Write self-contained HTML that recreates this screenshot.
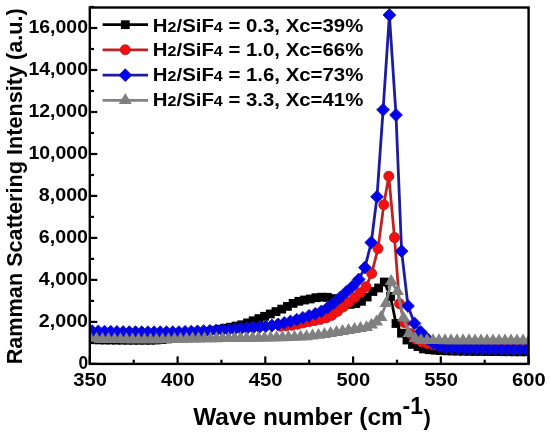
<!DOCTYPE html>
<html><head><meta charset="utf-8"><style>
html,body{margin:0;padding:0;background:#fff;}
svg{display:block;}
text{font-family:"Liberation Sans",Arial,sans-serif;font-weight:bold;fill:#000;}
.tk{font-size:18px;}
.lg{font-size:19px;}
.sb{font-size:15px;}
.al{font-size:22.5px;}
.sp{font-size:16px;}
</style></head><body>
<svg width="550" height="434" viewBox="0 0 550 434">
<rect width="550" height="434" fill="#fff"/>
<defs><clipPath id="pc"><rect x="89.8" y="3.5" width="438.8" height="360.4"/></clipPath></defs>
<g clip-path="url(#pc)">
<g><polyline points="87.9,339.6 93.6,339.7 99.3,339.9 105.0,340.0 110.7,340.0 116.4,340.1 122.1,340.1 127.8,340.2 133.5,340.2 139.2,340.2 144.9,340.2 150.6,340.2 156.3,340.0 162.0,339.6 167.7,338.9 173.4,338.1 179.1,337.3 184.8,336.3 190.5,335.4 196.2,334.3 201.9,333.0 207.6,331.6 213.3,330.3 219.0,329.2 224.7,328.2 230.4,327.2 236.1,326.1 241.8,324.8 247.5,322.9 253.2,320.8 258.9,318.6 264.6,316.3 270.3,314.0 276.0,311.6 281.7,309.1 287.4,306.4 293.1,303.4 298.8,301.3 304.5,300.0 310.2,299.0 315.9,297.7 321.6,297.2 327.3,297.3 333.0,298.6 338.7,301.0 344.4,303.6 350.1,304.4 355.8,303.5 361.5,301.3 367.2,297.0 372.9,291.5 378.6,288.0 384.3,282.0 390.5,296.5 396.0,323.5 401.5,333.2 407.0,340.0 412.5,344.4 418.0,346.6 423.5,348.9 429.2,349.7 434.9,350.2 440.6,350.6 446.3,350.8 452.0,351.0 457.7,351.1 463.4,351.2 469.1,351.3 474.8,351.4 480.5,351.4 486.2,351.5 491.9,351.6 497.6,351.6 503.3,351.7 509.0,351.7 514.7,351.8 520.4,351.8 526.1,351.8 531.8,351.8" fill="none" stroke="#000000" stroke-width="2.8" stroke-linejoin="round"/>
<rect x="83.5" y="335.2" width="8.8" height="8.8" fill="#000000"/>
<rect x="89.2" y="335.3" width="8.8" height="8.8" fill="#000000"/>
<rect x="94.9" y="335.5" width="8.8" height="8.8" fill="#000000"/>
<rect x="100.6" y="335.6" width="8.8" height="8.8" fill="#000000"/>
<rect x="106.3" y="335.6" width="8.8" height="8.8" fill="#000000"/>
<rect x="112.0" y="335.7" width="8.8" height="8.8" fill="#000000"/>
<rect x="117.7" y="335.7" width="8.8" height="8.8" fill="#000000"/>
<rect x="123.4" y="335.8" width="8.8" height="8.8" fill="#000000"/>
<rect x="129.1" y="335.8" width="8.8" height="8.8" fill="#000000"/>
<rect x="134.8" y="335.8" width="8.8" height="8.8" fill="#000000"/>
<rect x="140.5" y="335.8" width="8.8" height="8.8" fill="#000000"/>
<rect x="146.2" y="335.8" width="8.8" height="8.8" fill="#000000"/>
<rect x="151.9" y="335.6" width="8.8" height="8.8" fill="#000000"/>
<rect x="157.6" y="335.2" width="8.8" height="8.8" fill="#000000"/>
<rect x="163.3" y="334.5" width="8.8" height="8.8" fill="#000000"/>
<rect x="169.0" y="333.7" width="8.8" height="8.8" fill="#000000"/>
<rect x="174.7" y="332.9" width="8.8" height="8.8" fill="#000000"/>
<rect x="180.4" y="331.9" width="8.8" height="8.8" fill="#000000"/>
<rect x="186.1" y="331.0" width="8.8" height="8.8" fill="#000000"/>
<rect x="191.8" y="329.9" width="8.8" height="8.8" fill="#000000"/>
<rect x="197.5" y="328.6" width="8.8" height="8.8" fill="#000000"/>
<rect x="203.2" y="327.2" width="8.8" height="8.8" fill="#000000"/>
<rect x="208.9" y="325.9" width="8.8" height="8.8" fill="#000000"/>
<rect x="214.6" y="324.8" width="8.8" height="8.8" fill="#000000"/>
<rect x="220.3" y="323.8" width="8.8" height="8.8" fill="#000000"/>
<rect x="226.0" y="322.8" width="8.8" height="8.8" fill="#000000"/>
<rect x="231.7" y="321.7" width="8.8" height="8.8" fill="#000000"/>
<rect x="237.4" y="320.4" width="8.8" height="8.8" fill="#000000"/>
<rect x="243.1" y="318.5" width="8.8" height="8.8" fill="#000000"/>
<rect x="248.8" y="316.4" width="8.8" height="8.8" fill="#000000"/>
<rect x="254.5" y="314.2" width="8.8" height="8.8" fill="#000000"/>
<rect x="260.2" y="311.9" width="8.8" height="8.8" fill="#000000"/>
<rect x="265.9" y="309.6" width="8.8" height="8.8" fill="#000000"/>
<rect x="271.6" y="307.2" width="8.8" height="8.8" fill="#000000"/>
<rect x="277.3" y="304.7" width="8.8" height="8.8" fill="#000000"/>
<rect x="283.0" y="302.0" width="8.8" height="8.8" fill="#000000"/>
<rect x="288.7" y="299.0" width="8.8" height="8.8" fill="#000000"/>
<rect x="294.4" y="296.9" width="8.8" height="8.8" fill="#000000"/>
<rect x="300.1" y="295.6" width="8.8" height="8.8" fill="#000000"/>
<rect x="305.8" y="294.6" width="8.8" height="8.8" fill="#000000"/>
<rect x="311.5" y="293.3" width="8.8" height="8.8" fill="#000000"/>
<rect x="317.2" y="292.8" width="8.8" height="8.8" fill="#000000"/>
<rect x="322.9" y="292.9" width="8.8" height="8.8" fill="#000000"/>
<rect x="328.6" y="294.2" width="8.8" height="8.8" fill="#000000"/>
<rect x="334.3" y="296.6" width="8.8" height="8.8" fill="#000000"/>
<rect x="340.0" y="299.2" width="8.8" height="8.8" fill="#000000"/>
<rect x="345.7" y="300.0" width="8.8" height="8.8" fill="#000000"/>
<rect x="351.4" y="299.1" width="8.8" height="8.8" fill="#000000"/>
<rect x="357.1" y="296.9" width="8.8" height="8.8" fill="#000000"/>
<rect x="362.8" y="292.6" width="8.8" height="8.8" fill="#000000"/>
<rect x="368.5" y="287.1" width="8.8" height="8.8" fill="#000000"/>
<rect x="374.2" y="283.6" width="8.8" height="8.8" fill="#000000"/>
<rect x="379.9" y="277.6" width="8.8" height="8.8" fill="#000000"/>
<rect x="386.1" y="292.1" width="8.8" height="8.8" fill="#000000"/>
<rect x="391.6" y="319.1" width="8.8" height="8.8" fill="#000000"/>
<rect x="397.1" y="328.8" width="8.8" height="8.8" fill="#000000"/>
<rect x="402.6" y="335.6" width="8.8" height="8.8" fill="#000000"/>
<rect x="408.1" y="340.0" width="8.8" height="8.8" fill="#000000"/>
<rect x="413.6" y="342.2" width="8.8" height="8.8" fill="#000000"/>
<rect x="419.1" y="344.5" width="8.8" height="8.8" fill="#000000"/>
<rect x="424.8" y="345.3" width="8.8" height="8.8" fill="#000000"/>
<rect x="430.5" y="345.8" width="8.8" height="8.8" fill="#000000"/>
<rect x="436.2" y="346.2" width="8.8" height="8.8" fill="#000000"/>
<rect x="441.9" y="346.4" width="8.8" height="8.8" fill="#000000"/>
<rect x="447.6" y="346.6" width="8.8" height="8.8" fill="#000000"/>
<rect x="453.3" y="346.7" width="8.8" height="8.8" fill="#000000"/>
<rect x="459.0" y="346.8" width="8.8" height="8.8" fill="#000000"/>
<rect x="464.7" y="346.9" width="8.8" height="8.8" fill="#000000"/>
<rect x="470.4" y="347.0" width="8.8" height="8.8" fill="#000000"/>
<rect x="476.1" y="347.0" width="8.8" height="8.8" fill="#000000"/>
<rect x="481.8" y="347.1" width="8.8" height="8.8" fill="#000000"/>
<rect x="487.5" y="347.2" width="8.8" height="8.8" fill="#000000"/>
<rect x="493.2" y="347.2" width="8.8" height="8.8" fill="#000000"/>
<rect x="498.9" y="347.3" width="8.8" height="8.8" fill="#000000"/>
<rect x="504.6" y="347.3" width="8.8" height="8.8" fill="#000000"/>
<rect x="510.3" y="347.4" width="8.8" height="8.8" fill="#000000"/>
<rect x="516.0" y="347.4" width="8.8" height="8.8" fill="#000000"/>
<rect x="521.7" y="347.4" width="8.8" height="8.8" fill="#000000"/>
<rect x="527.4" y="347.4" width="8.8" height="8.8" fill="#000000"/>
</g>
<g><polyline points="86.7,332.0 92.4,332.2 98.1,332.2 103.8,332.3 109.5,332.4 115.2,332.4 120.9,332.5 126.6,332.5 132.3,332.5 138.0,332.5 143.7,332.5 149.4,332.5 155.1,332.5 160.8,332.4 166.5,332.4 172.2,332.2 177.9,332.1 183.6,332.0 189.3,331.8 195.0,331.6 200.7,331.5 206.4,331.3 212.1,331.0 217.8,330.7 223.5,330.3 229.2,330.0 234.9,329.6 240.6,329.2 246.3,328.8 252.0,328.4 257.7,327.9 263.4,327.5 269.1,327.1 274.8,326.7 280.5,326.3 286.2,325.9 291.9,325.3 297.6,324.3 303.3,323.0 309.0,321.7 314.7,320.6 320.4,319.4 326.1,317.9 331.8,315.4 337.5,311.4 343.2,307.0 348.9,302.3 354.6,297.7 360.3,292.8 366.0,286.8 371.7,273.5 378.0,248.6 383.8,204.8 388.8,176.2 394.5,237.6 399.5,303.7 404.7,322.8 410.4,333.5 416.1,339.1 421.8,342.0 427.5,343.6 433.2,344.8 438.9,345.5 444.6,345.6 450.3,345.7 456.0,345.9 461.7,346.0 467.4,346.1 473.1,346.1 478.8,346.2 484.5,346.3 490.2,346.3 495.9,346.4 501.6,346.4 507.3,346.4 513.0,346.5 518.7,346.5 524.4,346.5 530.1,346.5" fill="none" stroke="#c02222" stroke-width="2.8" stroke-linejoin="round"/>
<circle cx="280.5" cy="326.3" r="5.0" fill="#f41010" stroke="#c01818" stroke-width="0.9"/>
<circle cx="286.2" cy="325.9" r="5.0" fill="#f41010" stroke="#c01818" stroke-width="0.9"/>
<circle cx="291.9" cy="325.3" r="5.0" fill="#f41010" stroke="#c01818" stroke-width="0.9"/>
<circle cx="297.6" cy="324.3" r="5.0" fill="#f41010" stroke="#c01818" stroke-width="0.9"/>
<circle cx="303.3" cy="323.0" r="5.0" fill="#f41010" stroke="#c01818" stroke-width="0.9"/>
<circle cx="309.0" cy="321.7" r="5.0" fill="#f41010" stroke="#c01818" stroke-width="0.9"/>
<circle cx="314.7" cy="320.6" r="5.0" fill="#f41010" stroke="#c01818" stroke-width="0.9"/>
<circle cx="320.4" cy="319.4" r="5.0" fill="#f41010" stroke="#c01818" stroke-width="0.9"/>
<circle cx="326.1" cy="317.9" r="5.0" fill="#f41010" stroke="#c01818" stroke-width="0.9"/>
<circle cx="331.8" cy="315.4" r="5.0" fill="#f41010" stroke="#c01818" stroke-width="0.9"/>
<circle cx="337.5" cy="311.4" r="5.0" fill="#f41010" stroke="#c01818" stroke-width="0.9"/>
<circle cx="343.2" cy="307.0" r="5.0" fill="#f41010" stroke="#c01818" stroke-width="0.9"/>
<circle cx="348.9" cy="302.3" r="5.0" fill="#f41010" stroke="#c01818" stroke-width="0.9"/>
<circle cx="354.6" cy="297.7" r="5.0" fill="#f41010" stroke="#c01818" stroke-width="0.9"/>
<circle cx="360.3" cy="292.8" r="5.0" fill="#f41010" stroke="#c01818" stroke-width="0.9"/>
<circle cx="366.0" cy="286.8" r="5.0" fill="#f41010" stroke="#c01818" stroke-width="0.9"/>
<circle cx="371.7" cy="273.5" r="5.0" fill="#f41010" stroke="#c01818" stroke-width="0.9"/>
<circle cx="378.0" cy="248.6" r="5.0" fill="#f41010" stroke="#c01818" stroke-width="0.9"/>
<circle cx="383.8" cy="204.8" r="5.0" fill="#f41010" stroke="#c01818" stroke-width="0.9"/>
<circle cx="388.8" cy="176.2" r="5.0" fill="#f41010" stroke="#c01818" stroke-width="0.9"/>
<circle cx="394.5" cy="237.6" r="5.0" fill="#f41010" stroke="#c01818" stroke-width="0.9"/>
<circle cx="399.5" cy="303.7" r="5.0" fill="#f41010" stroke="#c01818" stroke-width="0.9"/>
<circle cx="404.7" cy="322.8" r="5.0" fill="#f41010" stroke="#c01818" stroke-width="0.9"/>
<circle cx="410.4" cy="333.5" r="5.0" fill="#f41010" stroke="#c01818" stroke-width="0.9"/>
<circle cx="416.1" cy="339.1" r="5.0" fill="#f41010" stroke="#c01818" stroke-width="0.9"/>
<circle cx="421.8" cy="342.0" r="5.0" fill="#f41010" stroke="#c01818" stroke-width="0.9"/>
<circle cx="427.5" cy="343.6" r="5.0" fill="#f41010" stroke="#c01818" stroke-width="0.9"/>
<circle cx="433.2" cy="344.8" r="5.0" fill="#f41010" stroke="#c01818" stroke-width="0.9"/>
<circle cx="438.9" cy="345.5" r="5.0" fill="#f41010" stroke="#c01818" stroke-width="0.9"/>
<circle cx="444.6" cy="345.6" r="5.0" fill="#f41010" stroke="#c01818" stroke-width="0.9"/>
<circle cx="450.3" cy="345.7" r="5.0" fill="#f41010" stroke="#c01818" stroke-width="0.9"/>
<circle cx="456.0" cy="345.9" r="5.0" fill="#f41010" stroke="#c01818" stroke-width="0.9"/>
<circle cx="461.7" cy="346.0" r="5.0" fill="#f41010" stroke="#c01818" stroke-width="0.9"/>
<circle cx="467.4" cy="346.1" r="5.0" fill="#f41010" stroke="#c01818" stroke-width="0.9"/>
<circle cx="473.1" cy="346.1" r="5.0" fill="#f41010" stroke="#c01818" stroke-width="0.9"/>
<circle cx="478.8" cy="346.2" r="5.0" fill="#f41010" stroke="#c01818" stroke-width="0.9"/>
<circle cx="484.5" cy="346.3" r="5.0" fill="#f41010" stroke="#c01818" stroke-width="0.9"/>
<circle cx="490.2" cy="346.3" r="5.0" fill="#f41010" stroke="#c01818" stroke-width="0.9"/>
<circle cx="495.9" cy="346.4" r="5.0" fill="#f41010" stroke="#c01818" stroke-width="0.9"/>
<circle cx="501.6" cy="346.4" r="5.0" fill="#f41010" stroke="#c01818" stroke-width="0.9"/>
<circle cx="507.3" cy="346.4" r="5.0" fill="#f41010" stroke="#c01818" stroke-width="0.9"/>
<circle cx="513.0" cy="346.5" r="5.0" fill="#f41010" stroke="#c01818" stroke-width="0.9"/>
<circle cx="518.7" cy="346.5" r="5.0" fill="#f41010" stroke="#c01818" stroke-width="0.9"/>
<circle cx="524.4" cy="346.5" r="5.0" fill="#f41010" stroke="#c01818" stroke-width="0.9"/>
<circle cx="530.1" cy="346.5" r="5.0" fill="#f41010" stroke="#c01818" stroke-width="0.9"/>
</g>
<g><polyline points="85.9,331.0 92.1,331.2 98.3,331.4 104.5,331.6 110.7,331.7 116.9,331.9 123.1,332.0 129.3,332.1 135.5,332.1 141.7,332.2 147.9,332.2 154.1,332.2 160.3,332.2 166.5,332.2 172.7,332.2 178.9,332.1 185.1,331.8 191.3,331.6 197.5,331.3 203.7,331.1 209.9,330.8 216.1,330.5 222.3,330.2 228.5,329.8 234.7,329.3 240.9,328.7 247.1,328.1 253.3,327.5 259.5,327.0 265.7,326.3 271.9,325.5 278.1,324.4 284.3,322.9 290.5,321.4 296.7,319.7 302.9,317.8 309.1,315.8 315.3,313.8 321.5,311.3 327.7,307.7 333.9,303.0 340.1,297.6 346.3,291.9 352.5,286.5 358.7,279.5 364.9,267.6 371.3,242.5 377.0,196.8 383.1,109.8 389.4,15.0 396.0,115.0 401.6,251.2 408.0,306.0 414.5,323.4 420.7,331.8 426.9,338.5 433.1,343.1 439.3,346.2 445.5,347.6 451.7,347.9 457.9,348.2 464.1,348.4 470.3,348.5 476.5,348.6 482.7,348.7 488.9,348.8 495.1,348.9 501.3,348.9 507.5,349.0 513.7,349.1 519.9,349.1 526.1,349.2 532.3,349.2" fill="none" stroke="#1c1ca0" stroke-width="2.8" stroke-linejoin="round"/>
<path d="M85.9 324.6L92.3 331.0L85.9 337.4L79.5 331.0Z" fill="#0000ee" stroke="#1a1aa0" stroke-width="0.9" stroke-linejoin="round"/>
<path d="M92.1 324.8L98.5 331.2L92.1 337.6L85.7 331.2Z" fill="#0000ee" stroke="#1a1aa0" stroke-width="0.9" stroke-linejoin="round"/>
<path d="M98.3 325.0L104.7 331.4L98.3 337.8L91.9 331.4Z" fill="#0000ee" stroke="#1a1aa0" stroke-width="0.9" stroke-linejoin="round"/>
<path d="M104.5 325.2L110.9 331.6L104.5 338.0L98.1 331.6Z" fill="#0000ee" stroke="#1a1aa0" stroke-width="0.9" stroke-linejoin="round"/>
<path d="M110.7 325.3L117.1 331.7L110.7 338.1L104.3 331.7Z" fill="#0000ee" stroke="#1a1aa0" stroke-width="0.9" stroke-linejoin="round"/>
<path d="M116.9 325.5L123.3 331.9L116.9 338.3L110.5 331.9Z" fill="#0000ee" stroke="#1a1aa0" stroke-width="0.9" stroke-linejoin="round"/>
<path d="M123.1 325.6L129.5 332.0L123.1 338.4L116.7 332.0Z" fill="#0000ee" stroke="#1a1aa0" stroke-width="0.9" stroke-linejoin="round"/>
<path d="M129.3 325.7L135.7 332.1L129.3 338.5L122.9 332.1Z" fill="#0000ee" stroke="#1a1aa0" stroke-width="0.9" stroke-linejoin="round"/>
<path d="M135.5 325.7L141.9 332.1L135.5 338.5L129.1 332.1Z" fill="#0000ee" stroke="#1a1aa0" stroke-width="0.9" stroke-linejoin="round"/>
<path d="M141.7 325.8L148.1 332.2L141.7 338.6L135.3 332.2Z" fill="#0000ee" stroke="#1a1aa0" stroke-width="0.9" stroke-linejoin="round"/>
<path d="M147.9 325.8L154.3 332.2L147.9 338.6L141.5 332.2Z" fill="#0000ee" stroke="#1a1aa0" stroke-width="0.9" stroke-linejoin="round"/>
<path d="M154.1 325.8L160.5 332.2L154.1 338.6L147.7 332.2Z" fill="#0000ee" stroke="#1a1aa0" stroke-width="0.9" stroke-linejoin="round"/>
<path d="M160.3 325.8L166.7 332.2L160.3 338.6L153.9 332.2Z" fill="#0000ee" stroke="#1a1aa0" stroke-width="0.9" stroke-linejoin="round"/>
<path d="M166.5 325.8L172.9 332.2L166.5 338.6L160.1 332.2Z" fill="#0000ee" stroke="#1a1aa0" stroke-width="0.9" stroke-linejoin="round"/>
<path d="M172.7 325.8L179.1 332.2L172.7 338.6L166.3 332.2Z" fill="#0000ee" stroke="#1a1aa0" stroke-width="0.9" stroke-linejoin="round"/>
<path d="M178.9 325.7L185.3 332.1L178.9 338.5L172.5 332.1Z" fill="#0000ee" stroke="#1a1aa0" stroke-width="0.9" stroke-linejoin="round"/>
<path d="M185.1 325.4L191.5 331.8L185.1 338.2L178.7 331.8Z" fill="#0000ee" stroke="#1a1aa0" stroke-width="0.9" stroke-linejoin="round"/>
<path d="M191.3 325.2L197.7 331.6L191.3 338.0L184.9 331.6Z" fill="#0000ee" stroke="#1a1aa0" stroke-width="0.9" stroke-linejoin="round"/>
<path d="M197.5 324.9L203.9 331.3L197.5 337.7L191.1 331.3Z" fill="#0000ee" stroke="#1a1aa0" stroke-width="0.9" stroke-linejoin="round"/>
<path d="M203.7 324.7L210.1 331.1L203.7 337.5L197.3 331.1Z" fill="#0000ee" stroke="#1a1aa0" stroke-width="0.9" stroke-linejoin="round"/>
<path d="M209.9 324.4L216.3 330.8L209.9 337.2L203.5 330.8Z" fill="#0000ee" stroke="#1a1aa0" stroke-width="0.9" stroke-linejoin="round"/>
<path d="M216.1 324.1L222.5 330.5L216.1 336.9L209.7 330.5Z" fill="#0000ee" stroke="#1a1aa0" stroke-width="0.9" stroke-linejoin="round"/>
<path d="M222.3 323.8L228.7 330.2L222.3 336.6L215.9 330.2Z" fill="#0000ee" stroke="#1a1aa0" stroke-width="0.9" stroke-linejoin="round"/>
<path d="M228.5 323.4L234.9 329.8L228.5 336.2L222.1 329.8Z" fill="#0000ee" stroke="#1a1aa0" stroke-width="0.9" stroke-linejoin="round"/>
<path d="M234.7 322.9L241.1 329.3L234.7 335.7L228.3 329.3Z" fill="#0000ee" stroke="#1a1aa0" stroke-width="0.9" stroke-linejoin="round"/>
<path d="M240.9 322.3L247.3 328.7L240.9 335.1L234.5 328.7Z" fill="#0000ee" stroke="#1a1aa0" stroke-width="0.9" stroke-linejoin="round"/>
<path d="M247.1 321.7L253.5 328.1L247.1 334.5L240.7 328.1Z" fill="#0000ee" stroke="#1a1aa0" stroke-width="0.9" stroke-linejoin="round"/>
<path d="M253.3 321.1L259.7 327.5L253.3 333.9L246.9 327.5Z" fill="#0000ee" stroke="#1a1aa0" stroke-width="0.9" stroke-linejoin="round"/>
<path d="M259.5 320.6L265.9 327.0L259.5 333.4L253.1 327.0Z" fill="#0000ee" stroke="#1a1aa0" stroke-width="0.9" stroke-linejoin="round"/>
<path d="M265.7 319.9L272.1 326.3L265.7 332.7L259.3 326.3Z" fill="#0000ee" stroke="#1a1aa0" stroke-width="0.9" stroke-linejoin="round"/>
<path d="M271.9 319.1L278.3 325.5L271.9 331.9L265.5 325.5Z" fill="#0000ee" stroke="#1a1aa0" stroke-width="0.9" stroke-linejoin="round"/>
<path d="M278.1 318.0L284.5 324.4L278.1 330.8L271.7 324.4Z" fill="#0000ee" stroke="#1a1aa0" stroke-width="0.9" stroke-linejoin="round"/>
<path d="M284.3 316.5L290.7 322.9L284.3 329.3L277.9 322.9Z" fill="#0000ee" stroke="#1a1aa0" stroke-width="0.9" stroke-linejoin="round"/>
<path d="M290.5 315.0L296.9 321.4L290.5 327.8L284.1 321.4Z" fill="#0000ee" stroke="#1a1aa0" stroke-width="0.9" stroke-linejoin="round"/>
<path d="M296.7 313.3L303.1 319.7L296.7 326.1L290.3 319.7Z" fill="#0000ee" stroke="#1a1aa0" stroke-width="0.9" stroke-linejoin="round"/>
<path d="M302.9 311.4L309.3 317.8L302.9 324.2L296.5 317.8Z" fill="#0000ee" stroke="#1a1aa0" stroke-width="0.9" stroke-linejoin="round"/>
<path d="M309.1 309.4L315.5 315.8L309.1 322.2L302.7 315.8Z" fill="#0000ee" stroke="#1a1aa0" stroke-width="0.9" stroke-linejoin="round"/>
<path d="M315.3 307.4L321.7 313.8L315.3 320.2L308.9 313.8Z" fill="#0000ee" stroke="#1a1aa0" stroke-width="0.9" stroke-linejoin="round"/>
<path d="M321.5 304.9L327.9 311.3L321.5 317.7L315.1 311.3Z" fill="#0000ee" stroke="#1a1aa0" stroke-width="0.9" stroke-linejoin="round"/>
<path d="M327.7 301.3L334.1 307.7L327.7 314.1L321.3 307.7Z" fill="#0000ee" stroke="#1a1aa0" stroke-width="0.9" stroke-linejoin="round"/>
<path d="M333.9 296.6L340.3 303.0L333.9 309.4L327.5 303.0Z" fill="#0000ee" stroke="#1a1aa0" stroke-width="0.9" stroke-linejoin="round"/>
<path d="M340.1 291.2L346.5 297.6L340.1 304.0L333.7 297.6Z" fill="#0000ee" stroke="#1a1aa0" stroke-width="0.9" stroke-linejoin="round"/>
<path d="M346.3 285.5L352.7 291.9L346.3 298.3L339.9 291.9Z" fill="#0000ee" stroke="#1a1aa0" stroke-width="0.9" stroke-linejoin="round"/>
<path d="M352.5 280.1L358.9 286.5L352.5 292.9L346.1 286.5Z" fill="#0000ee" stroke="#1a1aa0" stroke-width="0.9" stroke-linejoin="round"/>
<path d="M358.7 273.1L365.1 279.5L358.7 285.9L352.3 279.5Z" fill="#0000ee" stroke="#1a1aa0" stroke-width="0.9" stroke-linejoin="round"/>
<path d="M364.9 261.2L371.3 267.6L364.9 274.0L358.5 267.6Z" fill="#0000ee" stroke="#1a1aa0" stroke-width="0.9" stroke-linejoin="round"/>
<path d="M371.3 236.1L377.7 242.5L371.3 248.9L364.9 242.5Z" fill="#0000ee" stroke="#1a1aa0" stroke-width="0.9" stroke-linejoin="round"/>
<path d="M377.0 190.4L383.4 196.8L377.0 203.2L370.6 196.8Z" fill="#0000ee" stroke="#1a1aa0" stroke-width="0.9" stroke-linejoin="round"/>
<path d="M383.1 103.4L389.5 109.8L383.1 116.2L376.7 109.8Z" fill="#0000ee" stroke="#1a1aa0" stroke-width="0.9" stroke-linejoin="round"/>
<path d="M389.4 8.6L395.8 15.0L389.4 21.4L383.0 15.0Z" fill="#0000ee" stroke="#1a1aa0" stroke-width="0.9" stroke-linejoin="round"/>
<path d="M396.0 108.6L402.4 115.0L396.0 121.4L389.6 115.0Z" fill="#0000ee" stroke="#1a1aa0" stroke-width="0.9" stroke-linejoin="round"/>
<path d="M401.6 244.8L408.0 251.2L401.6 257.6L395.2 251.2Z" fill="#0000ee" stroke="#1a1aa0" stroke-width="0.9" stroke-linejoin="round"/>
<path d="M408.0 299.6L414.4 306.0L408.0 312.4L401.6 306.0Z" fill="#0000ee" stroke="#1a1aa0" stroke-width="0.9" stroke-linejoin="round"/>
<path d="M414.5 317.0L420.9 323.4L414.5 329.8L408.1 323.4Z" fill="#0000ee" stroke="#1a1aa0" stroke-width="0.9" stroke-linejoin="round"/>
<path d="M420.7 325.4L427.1 331.8L420.7 338.2L414.3 331.8Z" fill="#0000ee" stroke="#1a1aa0" stroke-width="0.9" stroke-linejoin="round"/>
<path d="M426.9 332.1L433.3 338.5L426.9 344.9L420.5 338.5Z" fill="#0000ee" stroke="#1a1aa0" stroke-width="0.9" stroke-linejoin="round"/>
<path d="M433.1 336.7L439.5 343.1L433.1 349.5L426.7 343.1Z" fill="#0000ee" stroke="#1a1aa0" stroke-width="0.9" stroke-linejoin="round"/>
<path d="M439.3 339.8L445.7 346.2L439.3 352.6L432.9 346.2Z" fill="#0000ee" stroke="#1a1aa0" stroke-width="0.9" stroke-linejoin="round"/>
<path d="M445.5 341.2L451.9 347.6L445.5 354.0L439.1 347.6Z" fill="#0000ee" stroke="#1a1aa0" stroke-width="0.9" stroke-linejoin="round"/>
<path d="M451.7 341.5L458.1 347.9L451.7 354.3L445.3 347.9Z" fill="#0000ee" stroke="#1a1aa0" stroke-width="0.9" stroke-linejoin="round"/>
<path d="M457.9 341.8L464.3 348.2L457.9 354.6L451.5 348.2Z" fill="#0000ee" stroke="#1a1aa0" stroke-width="0.9" stroke-linejoin="round"/>
<path d="M464.1 342.0L470.5 348.4L464.1 354.8L457.7 348.4Z" fill="#0000ee" stroke="#1a1aa0" stroke-width="0.9" stroke-linejoin="round"/>
<path d="M470.3 342.1L476.7 348.5L470.3 354.9L463.9 348.5Z" fill="#0000ee" stroke="#1a1aa0" stroke-width="0.9" stroke-linejoin="round"/>
<path d="M476.5 342.2L482.9 348.6L476.5 355.0L470.1 348.6Z" fill="#0000ee" stroke="#1a1aa0" stroke-width="0.9" stroke-linejoin="round"/>
<path d="M482.7 342.3L489.1 348.7L482.7 355.1L476.3 348.7Z" fill="#0000ee" stroke="#1a1aa0" stroke-width="0.9" stroke-linejoin="round"/>
<path d="M488.9 342.4L495.3 348.8L488.9 355.2L482.5 348.8Z" fill="#0000ee" stroke="#1a1aa0" stroke-width="0.9" stroke-linejoin="round"/>
<path d="M495.1 342.5L501.5 348.9L495.1 355.3L488.7 348.9Z" fill="#0000ee" stroke="#1a1aa0" stroke-width="0.9" stroke-linejoin="round"/>
<path d="M501.3 342.5L507.7 348.9L501.3 355.3L494.9 348.9Z" fill="#0000ee" stroke="#1a1aa0" stroke-width="0.9" stroke-linejoin="round"/>
<path d="M507.5 342.6L513.9 349.0L507.5 355.4L501.1 349.0Z" fill="#0000ee" stroke="#1a1aa0" stroke-width="0.9" stroke-linejoin="round"/>
<path d="M513.7 342.7L520.1 349.1L513.7 355.5L507.3 349.1Z" fill="#0000ee" stroke="#1a1aa0" stroke-width="0.9" stroke-linejoin="round"/>
<path d="M519.9 342.7L526.3 349.1L519.9 355.5L513.5 349.1Z" fill="#0000ee" stroke="#1a1aa0" stroke-width="0.9" stroke-linejoin="round"/>
<path d="M526.1 342.8L532.5 349.2L526.1 355.6L519.7 349.2Z" fill="#0000ee" stroke="#1a1aa0" stroke-width="0.9" stroke-linejoin="round"/>
<path d="M532.3 342.8L538.7 349.2L532.3 355.6L525.9 349.2Z" fill="#0000ee" stroke="#1a1aa0" stroke-width="0.9" stroke-linejoin="round"/>
</g>
<g><polyline points="84.5,338.8 90.5,339.0 96.5,339.1 102.5,339.3 108.5,339.4 114.5,339.5 120.5,339.5 126.5,339.6 132.5,339.6 138.5,339.7 144.5,339.7 150.5,339.7 156.5,339.7 162.5,339.6 168.5,339.5 174.5,339.4 180.5,339.2 186.5,339.1 192.5,338.9 198.5,338.8 204.5,338.7 210.5,338.7 216.5,338.6 222.5,338.5 228.5,338.5 234.5,338.4 240.5,338.3 246.5,338.3 252.5,338.2 258.5,338.1 264.5,338.0 270.5,337.9 276.5,337.7 282.5,337.6 288.5,337.4 294.5,337.2 300.5,337.0 306.5,336.6 312.5,335.9 318.5,335.2 324.5,334.4 330.5,333.4 336.5,332.4 342.5,331.3 348.5,330.3 354.5,329.4 360.5,328.4 366.5,327.5 371.5,325.0 376.5,321.8 381.0,317.3 386.0,303.5 391.2,281.4 397.5,291.5 403.5,318.0 409.0,333.5 415.0,338.5 421.0,340.4 427.0,340.5 433.0,340.5 439.0,340.5 445.0,340.6 451.0,340.6 457.0,340.6 463.0,340.6 469.0,340.6 475.0,340.7 481.0,340.7 487.0,340.7 493.0,340.7 499.0,340.7 505.0,340.7 511.0,340.7 517.0,340.7 523.0,340.7 529.0,340.7" fill="none" stroke="#828282" stroke-width="2.8" stroke-linejoin="round"/>
<path d="M84.5 331.5L91.0 342.4L78.0 342.4Z" fill="#808080"/>
<path d="M90.5 331.7L97.0 342.6L84.0 342.6Z" fill="#808080"/>
<path d="M96.5 331.8L103.0 342.7L90.0 342.7Z" fill="#808080"/>
<path d="M102.5 332.0L109.0 342.9L96.0 342.9Z" fill="#808080"/>
<path d="M108.5 332.1L115.0 343.0L102.0 343.0Z" fill="#808080"/>
<path d="M114.5 332.2L121.0 343.1L108.0 343.1Z" fill="#808080"/>
<path d="M120.5 332.2L127.0 343.1L114.0 343.1Z" fill="#808080"/>
<path d="M126.5 332.3L133.0 343.2L120.0 343.2Z" fill="#808080"/>
<path d="M132.5 332.3L139.0 343.2L126.0 343.2Z" fill="#808080"/>
<path d="M138.5 332.4L145.0 343.3L132.0 343.3Z" fill="#808080"/>
<path d="M144.5 332.4L151.0 343.3L138.0 343.3Z" fill="#808080"/>
<path d="M150.5 332.4L157.0 343.3L144.0 343.3Z" fill="#808080"/>
<path d="M156.5 332.4L163.0 343.3L150.0 343.3Z" fill="#808080"/>
<path d="M162.5 332.3L169.0 343.2L156.0 343.2Z" fill="#808080"/>
<path d="M168.5 332.2L175.0 343.1L162.0 343.1Z" fill="#808080"/>
<path d="M174.5 332.1L181.0 343.0L168.0 343.0Z" fill="#808080"/>
<path d="M180.5 331.9L187.0 342.8L174.0 342.8Z" fill="#808080"/>
<path d="M186.5 331.8L193.0 342.7L180.0 342.7Z" fill="#808080"/>
<path d="M192.5 331.6L199.0 342.5L186.0 342.5Z" fill="#808080"/>
<path d="M198.5 331.5L205.0 342.4L192.0 342.4Z" fill="#808080"/>
<path d="M204.5 331.4L211.0 342.3L198.0 342.3Z" fill="#808080"/>
<path d="M210.5 331.4L217.0 342.3L204.0 342.3Z" fill="#808080"/>
<path d="M216.5 331.3L223.0 342.2L210.0 342.2Z" fill="#808080"/>
<path d="M222.5 331.2L229.0 342.1L216.0 342.1Z" fill="#808080"/>
<path d="M228.5 331.2L235.0 342.1L222.0 342.1Z" fill="#808080"/>
<path d="M234.5 331.1L241.0 342.0L228.0 342.0Z" fill="#808080"/>
<path d="M240.5 331.0L247.0 341.9L234.0 341.9Z" fill="#808080"/>
<path d="M246.5 331.0L253.0 341.9L240.0 341.9Z" fill="#808080"/>
<path d="M252.5 330.9L259.0 341.8L246.0 341.8Z" fill="#808080"/>
<path d="M258.5 330.8L265.0 341.7L252.0 341.7Z" fill="#808080"/>
<path d="M264.5 330.7L271.0 341.6L258.0 341.6Z" fill="#808080"/>
<path d="M270.5 330.6L277.0 341.5L264.0 341.5Z" fill="#808080"/>
<path d="M276.5 330.4L283.0 341.3L270.0 341.3Z" fill="#808080"/>
<path d="M282.5 330.3L289.0 341.2L276.0 341.2Z" fill="#808080"/>
<path d="M288.5 330.1L295.0 341.0L282.0 341.0Z" fill="#808080"/>
<path d="M294.5 329.9L301.0 340.8L288.0 340.8Z" fill="#808080"/>
<path d="M300.5 329.7L307.0 340.6L294.0 340.6Z" fill="#808080"/>
<path d="M306.5 329.3L313.0 340.2L300.0 340.2Z" fill="#808080"/>
<path d="M312.5 328.6L319.0 339.5L306.0 339.5Z" fill="#808080"/>
<path d="M318.5 327.9L325.0 338.8L312.0 338.8Z" fill="#808080"/>
<path d="M324.5 327.1L331.0 338.0L318.0 338.0Z" fill="#808080"/>
<path d="M330.5 326.1L337.0 337.0L324.0 337.0Z" fill="#808080"/>
<path d="M336.5 325.1L343.0 336.0L330.0 336.0Z" fill="#808080"/>
<path d="M342.5 324.0L349.0 334.9L336.0 334.9Z" fill="#808080"/>
<path d="M348.5 323.0L355.0 333.9L342.0 333.9Z" fill="#808080"/>
<path d="M354.5 322.1L361.0 333.0L348.0 333.0Z" fill="#808080"/>
<path d="M360.5 321.1L367.0 332.0L354.0 332.0Z" fill="#808080"/>
<path d="M366.5 320.2L373.0 331.1L360.0 331.1Z" fill="#808080"/>
<path d="M371.5 317.7L378.0 328.6L365.0 328.6Z" fill="#808080"/>
<path d="M376.5 314.5L383.0 325.4L370.0 325.4Z" fill="#808080"/>
<path d="M381.0 310.0L387.5 320.9L374.5 320.9Z" fill="#808080"/>
<path d="M386.0 296.2L392.5 307.1L379.5 307.1Z" fill="#808080"/>
<path d="M391.2 274.1L397.7 285.0L384.7 285.0Z" fill="#808080"/>
<path d="M397.5 284.2L404.0 295.1L391.0 295.1Z" fill="#808080"/>
<path d="M403.5 310.7L410.0 321.6L397.0 321.6Z" fill="#808080"/>
<path d="M409.0 326.2L415.5 337.1L402.5 337.1Z" fill="#808080"/>
<path d="M415.0 331.2L421.5 342.1L408.5 342.1Z" fill="#808080"/>
<path d="M421.0 333.1L427.5 344.0L414.5 344.0Z" fill="#808080"/>
<path d="M427.0 333.2L433.5 344.1L420.5 344.1Z" fill="#808080"/>
<path d="M433.0 333.2L439.5 344.1L426.5 344.1Z" fill="#808080"/>
<path d="M439.0 333.2L445.5 344.1L432.5 344.1Z" fill="#808080"/>
<path d="M445.0 333.3L451.5 344.2L438.5 344.2Z" fill="#808080"/>
<path d="M451.0 333.3L457.5 344.2L444.5 344.2Z" fill="#808080"/>
<path d="M457.0 333.3L463.5 344.2L450.5 344.2Z" fill="#808080"/>
<path d="M463.0 333.3L469.5 344.2L456.5 344.2Z" fill="#808080"/>
<path d="M469.0 333.3L475.5 344.2L462.5 344.2Z" fill="#808080"/>
<path d="M475.0 333.4L481.5 344.3L468.5 344.3Z" fill="#808080"/>
<path d="M481.0 333.4L487.5 344.3L474.5 344.3Z" fill="#808080"/>
<path d="M487.0 333.4L493.5 344.3L480.5 344.3Z" fill="#808080"/>
<path d="M493.0 333.4L499.5 344.3L486.5 344.3Z" fill="#808080"/>
<path d="M499.0 333.4L505.5 344.3L492.5 344.3Z" fill="#808080"/>
<path d="M505.0 333.4L511.5 344.3L498.5 344.3Z" fill="#808080"/>
<path d="M511.0 333.4L517.5 344.3L504.5 344.3Z" fill="#808080"/>
<path d="M517.0 333.4L523.5 344.3L510.5 344.3Z" fill="#808080"/>
<path d="M523.0 333.4L529.5 344.3L516.5 344.3Z" fill="#808080"/>
<path d="M529.0 333.4L535.5 344.3L522.5 344.3Z" fill="#808080"/>
</g>
</g>
<rect x="89.8" y="7.5" width="438.8" height="356.4" fill="none" stroke="#000" stroke-width="2.4"/>
<line x1="89.8" y1="363.9" x2="89.8" y2="356.4" stroke="#000" stroke-width="2.2"/>
<line x1="133.7" y1="363.9" x2="133.7" y2="359.7" stroke="#000" stroke-width="2.2"/>
<line x1="177.6" y1="363.9" x2="177.6" y2="356.4" stroke="#000" stroke-width="2.2"/>
<line x1="221.4" y1="363.9" x2="221.4" y2="359.7" stroke="#000" stroke-width="2.2"/>
<line x1="265.3" y1="363.9" x2="265.3" y2="356.4" stroke="#000" stroke-width="2.2"/>
<line x1="309.2" y1="363.9" x2="309.2" y2="359.7" stroke="#000" stroke-width="2.2"/>
<line x1="353.1" y1="363.9" x2="353.1" y2="356.4" stroke="#000" stroke-width="2.2"/>
<line x1="397.0" y1="363.9" x2="397.0" y2="359.7" stroke="#000" stroke-width="2.2"/>
<line x1="440.8" y1="363.9" x2="440.8" y2="356.4" stroke="#000" stroke-width="2.2"/>
<line x1="484.7" y1="363.9" x2="484.7" y2="359.7" stroke="#000" stroke-width="2.2"/>
<line x1="528.6" y1="363.9" x2="528.6" y2="356.4" stroke="#000" stroke-width="2.2"/>
<line x1="89.8" y1="363.9" x2="97.3" y2="363.9" stroke="#000" stroke-width="2.2"/>
<line x1="89.8" y1="342.9" x2="94.0" y2="342.9" stroke="#000" stroke-width="2.2"/>
<line x1="89.8" y1="321.9" x2="97.3" y2="321.9" stroke="#000" stroke-width="2.2"/>
<line x1="89.8" y1="300.9" x2="94.0" y2="300.9" stroke="#000" stroke-width="2.2"/>
<line x1="89.8" y1="279.9" x2="97.3" y2="279.9" stroke="#000" stroke-width="2.2"/>
<line x1="89.8" y1="258.9" x2="94.0" y2="258.9" stroke="#000" stroke-width="2.2"/>
<line x1="89.8" y1="237.9" x2="97.3" y2="237.9" stroke="#000" stroke-width="2.2"/>
<line x1="89.8" y1="216.9" x2="94.0" y2="216.9" stroke="#000" stroke-width="2.2"/>
<line x1="89.8" y1="195.9" x2="97.3" y2="195.9" stroke="#000" stroke-width="2.2"/>
<line x1="89.8" y1="175.0" x2="94.0" y2="175.0" stroke="#000" stroke-width="2.2"/>
<line x1="89.8" y1="154.0" x2="97.3" y2="154.0" stroke="#000" stroke-width="2.2"/>
<line x1="89.8" y1="133.0" x2="94.0" y2="133.0" stroke="#000" stroke-width="2.2"/>
<line x1="89.8" y1="112.0" x2="97.3" y2="112.0" stroke="#000" stroke-width="2.2"/>
<line x1="89.8" y1="91.0" x2="94.0" y2="91.0" stroke="#000" stroke-width="2.2"/>
<line x1="89.8" y1="70.0" x2="97.3" y2="70.0" stroke="#000" stroke-width="2.2"/>
<line x1="89.8" y1="49.0" x2="94.0" y2="49.0" stroke="#000" stroke-width="2.2"/>
<line x1="89.8" y1="28.0" x2="97.3" y2="28.0" stroke="#000" stroke-width="2.2"/>
<line x1="89.8" y1="7.0" x2="94.0" y2="7.0" stroke="#000" stroke-width="2.2"/>
<text x="88.0" y="369.3" text-anchor="end" class="tk" textLength="9.6" lengthAdjust="spacingAndGlyphs">0</text>
<text x="88.0" y="327.3" text-anchor="end" class="tk" textLength="49.2" lengthAdjust="spacingAndGlyphs">2,000</text>
<text x="88.0" y="285.3" text-anchor="end" class="tk" textLength="49.2" lengthAdjust="spacingAndGlyphs">4,000</text>
<text x="88.0" y="243.3" text-anchor="end" class="tk" textLength="49.2" lengthAdjust="spacingAndGlyphs">6,000</text>
<text x="88.0" y="201.3" text-anchor="end" class="tk" textLength="49.2" lengthAdjust="spacingAndGlyphs">8,000</text>
<text x="88.0" y="159.4" text-anchor="end" class="tk" textLength="59.6" lengthAdjust="spacingAndGlyphs">10,000</text>
<text x="88.0" y="117.4" text-anchor="end" class="tk" textLength="59.6" lengthAdjust="spacingAndGlyphs">12,000</text>
<text x="88.0" y="75.4" text-anchor="end" class="tk" textLength="59.6" lengthAdjust="spacingAndGlyphs">14,000</text>
<text x="88.0" y="33.4" text-anchor="end" class="tk" textLength="59.6" lengthAdjust="spacingAndGlyphs">16,000</text>
<text x="90.1" y="385.9" text-anchor="middle" class="tk" textLength="33.6" lengthAdjust="spacingAndGlyphs">350</text>
<text x="177.9" y="385.9" text-anchor="middle" class="tk" textLength="33.6" lengthAdjust="spacingAndGlyphs">400</text>
<text x="265.6" y="385.9" text-anchor="middle" class="tk" textLength="33.6" lengthAdjust="spacingAndGlyphs">450</text>
<text x="353.4" y="385.9" text-anchor="middle" class="tk" textLength="33.6" lengthAdjust="spacingAndGlyphs">500</text>
<text x="441.1" y="385.9" text-anchor="middle" class="tk" textLength="33.6" lengthAdjust="spacingAndGlyphs">550</text>
<text x="528.9" y="385.9" text-anchor="middle" class="tk" textLength="33.6" lengthAdjust="spacingAndGlyphs">600</text>
<line x1="102.6" y1="24.7" x2="148" y2="24.7" stroke="#000000" stroke-width="2.7"/>
<rect x="120.9" y="20.3" width="8.8" height="8.8" fill="#000000"/>
<text x="152.8" y="31.5" class="lg" textLength="210.5" lengthAdjust="spacingAndGlyphs">H<tspan class="sb">2</tspan>/SiF<tspan class="sb">4</tspan> = 0.3, Xc=39%</text>
<line x1="102.6" y1="49.8" x2="148" y2="49.8" stroke="#c02222" stroke-width="2.7"/>
<circle cx="125.3" cy="49.8" r="5.0" fill="#f41010" stroke="#c01818" stroke-width="0.9"/>
<text x="152.8" y="56.3" class="lg" textLength="210.5" lengthAdjust="spacingAndGlyphs">H<tspan class="sb">2</tspan>/SiF<tspan class="sb">4</tspan> = 1.0, Xc=66%</text>
<line x1="102.6" y1="75.2" x2="148" y2="75.2" stroke="#1c1ca0" stroke-width="2.7"/>
<path d="M125.3 68.8L131.7 75.2L125.3 81.6L118.9 75.2Z" fill="#0000ee" stroke="#1a1aa0" stroke-width="0.9" stroke-linejoin="round"/>
<text x="152.8" y="80.6" class="lg" textLength="210.5" lengthAdjust="spacingAndGlyphs">H<tspan class="sb">2</tspan>/SiF<tspan class="sb">4</tspan> = 1.6, Xc=73%</text>
<line x1="102.6" y1="100.3" x2="148" y2="100.3" stroke="#828282" stroke-width="2.7"/>
<path d="M125.3 93.0L131.8 103.9L118.8 103.9Z" fill="#808080"/>
<text x="152.8" y="105.8" class="lg" textLength="210.5" lengthAdjust="spacingAndGlyphs">H<tspan class="sb">2</tspan>/SiF<tspan class="sb">4</tspan> = 3.3, Xc=41%</text>
<text x="193.2" y="425.3" class="al" style="font-size:23.2px" textLength="209.6" lengthAdjust="spacingAndGlyphs">Wave number (cm</text>
<text x="402.6" y="414" class="al" style="font-size:23px">-1</text>
<text x="423.4" y="425.3" class="al" style="font-size:22px">)</text>
<text transform="translate(22.2,364.3) rotate(-90)" x="0" y="0" class="al" style="font-size:21.6px" textLength="356" lengthAdjust="spacingAndGlyphs">Ramman Scattering Intensity (a.u.)</text>
</svg>
</body></html>
